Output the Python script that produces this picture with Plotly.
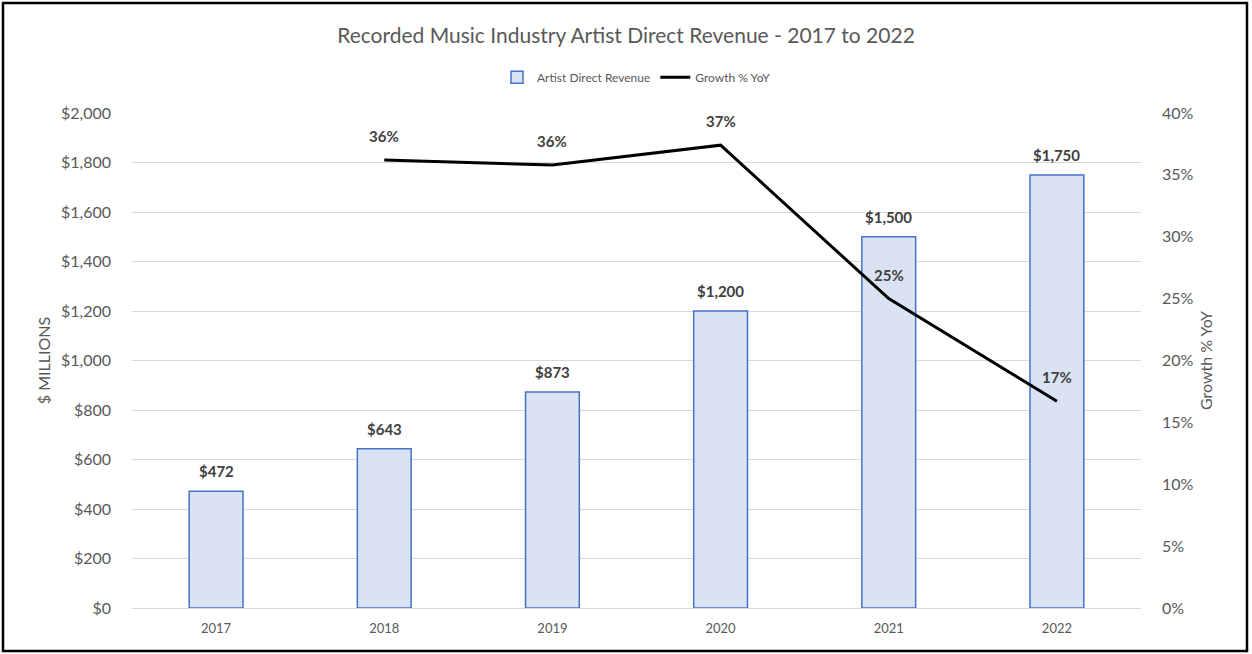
import plotly.graph_objs as go

# data
years = ['2017', '2018', '2019', '2020', '2021', '2022']
revenue = [472, 643, 873, 1200, 1500, 1750]
growth_years = ['2018', '2019', '2020', '2021', '2022']
growth_pct = [0.362, 0.358, 0.374, 0.25, 0.167]

font_name = 'Lato, Open Sans, sans-serif'
grey = '#595959'
label_font = dict(size=15, color='#404040')

bars = go.Bar(
    x=years,
    y=revenue,
    name='Artist Direct Revenue',
    marker=dict(color='#DAE3F3', line=dict(color='#4472C4', width=1.5)),
    width=0.32)

line = go.Scatter(
    x=growth_years,
    y=growth_pct,
    name='Growth % YoY',
    mode='lines',
    line=dict(color='black', width=3),
    yaxis='y2')

# data labels above bars and line points
# (annotations on a category axis take the category index, year strings would be read as numbers)
labels = []
for x, v in zip(years, revenue):
    labels.append(dict(x=years.index(x), y=v, xref='x', yref='y',
                       text='<b>$%s</b>' % format(v, ','),
                       showarrow=False, yshift=20, font=label_font))
for x, g in zip(growth_years, growth_pct):
    labels.append(dict(x=years.index(x), y=g, xref='x', yref='y2',
                       text='<b>%d%%</b>' % round(g * 100),
                       showarrow=False, yshift=24, font=label_font))

layout = go.Layout(
    width=1252, height=654,
    margin=dict(l=132, r=111, t=113, b=46),
    paper_bgcolor='white',
    plot_bgcolor='white',
    font=dict(family=font_name, color=grey),
    title=dict(text='Recorded Music Industry Artist Direct Revenue - 2017 to 2022',
               x=0.5, xanchor='center', y=0.946, yanchor='middle',
               font=dict(size=21, color=grey)),
    legend=dict(orientation='h', x=0.5, xanchor='center', y=1.072, yanchor='middle',
                font=dict(size=12, color=grey), traceorder='normal'),
    bargap=0.68,
    annotations=labels,
    xaxis=dict(type='category', showgrid=False, showline=True, linecolor='#D9D9D9',
               ticks='', ticklabelstandoff=8, tickfont=dict(size=13, color=grey)),
    yaxis=dict(range=[0, 2000], dtick=200, tickprefix='$', tickformat=',',
               gridcolor='#D9D9D9', zeroline=False, ticks='', ticklabelstandoff=20,
               tickfont=dict(size=16, color=grey),
               title=dict(text='$ MILLIONS', font=dict(size=16, color=grey), standoff=6)),
    yaxis2=dict(overlaying='y', side='right', range=[0, 0.4], dtick=0.05,
                tickformat='.0%', showgrid=False, zeroline=False, ticks='',
                ticklabelstandoff=20, tickfont=dict(size=16, color=grey),
                title=dict(text='Growth % YoY', font=dict(size=16, color=grey), standoff=8)),
    shapes=[dict(type='rect', xref='paper', yref='paper',
                 x0=-129 / 1009, x1=1115 / 1009, y0=-43 / 495, y1=110 / 495 + 1,
                 line=dict(color='black', width=2.5))])

fig = go.Figure(data=[bars, line], layout=layout)
fig.write_html('out.html', config={'displayModeBar': False},
               post_script="document.body.style.margin='0';")
